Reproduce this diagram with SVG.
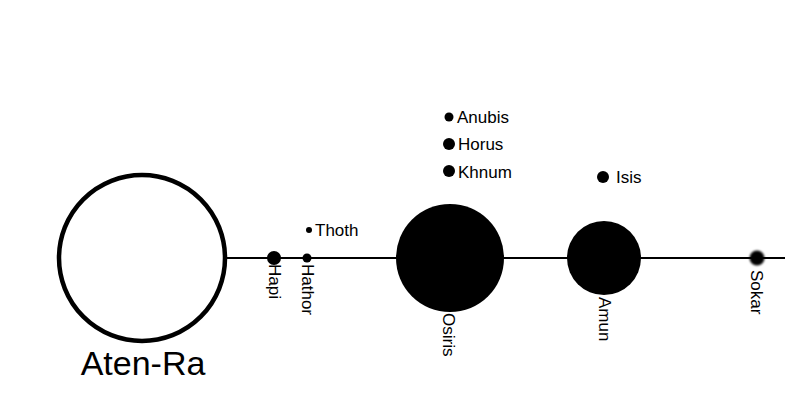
<svg xmlns="http://www.w3.org/2000/svg" width="800" height="420" viewBox="0 0 800 420">
<style>
text{font-family:"Liberation Sans",Arial,sans-serif;fill:#000;font-size:17px}
.big{font-size:34px}
.dot{fill:#000}
</style>
<defs>
<filter id="blur" x="-50%" y="-50%" width="200%" height="200%"><feGaussianBlur stdDeviation="1.2"/></filter>
</defs>
<rect width="800" height="420" fill="#fff"/>
<g id="connectors">
<line x1="57" y1="258" x2="785" y2="258" stroke="#000" stroke-width="2"/>
</g>
<g id="aten-ra">
<circle cx="142" cy="258" r="83" fill="#fff" stroke="#000" stroke-width="4.5"/>
<text class="big" x="143" y="375" text-anchor="middle">Aten-Ra</text>
</g>
<g id="hapi">
<circle class="dot" cx="274" cy="258" r="7"/>
<text transform="translate(269,264) rotate(90)">Hapi</text>
</g>
<g id="hathor">
<circle class="dot" cx="307" cy="258" r="4.5"/>
<text transform="translate(302,264) rotate(90)">Hathor</text>
</g>
<g id="thoth">
<circle class="dot" cx="309" cy="230" r="3"/>
<text x="315" y="236">Thoth</text>
</g>
<g id="osiris">
<circle class="dot" cx="450" cy="258" r="54"/>
<text transform="translate(443,313) rotate(90)">Osiris</text>
</g>
<g id="anubis">
<circle class="dot" cx="449" cy="117" r="4.5"/>
<text x="457" y="123">Anubis</text>
</g>
<g id="horus">
<circle class="dot" cx="449" cy="144" r="6"/>
<text x="458" y="150">Horus</text>
</g>
<g id="khnum">
<circle class="dot" cx="449" cy="171" r="6"/>
<text x="458" y="178">Khnum</text>
</g>
<g id="amun">
<circle class="dot" cx="604" cy="258" r="37"/>
<text transform="translate(599,297) rotate(90)">Amun</text>
</g>
<g id="isis">
<circle class="dot" cx="603" cy="177" r="6"/>
<text x="616" y="183">Isis</text>
</g>
<g id="sokar">
<circle class="dot" cx="757" cy="258" r="7.5" filter="url(#blur)"/>
<text transform="translate(751,270) rotate(90)">Sokar</text>
</g>
</svg>
